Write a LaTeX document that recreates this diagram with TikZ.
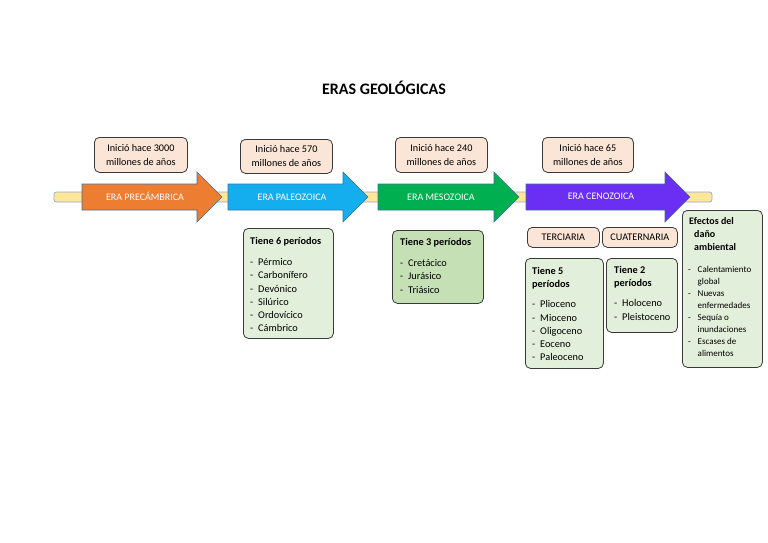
\documentclass[tikz,border=0pt]{standalone}
\usepackage{fontspec}
\setmainfont{Carlito}
\definecolor{barfill}{HTML}{FFE699}
\definecolor{barline}{HTML}{8FAADC}
\definecolor{arrline}{HTML}{41719C}
\definecolor{cpre}{HTML}{ED7D31}
\definecolor{cpal}{HTML}{14AEEE}
\definecolor{cmes}{HTML}{00B050}
\definecolor{ccen}{HTML}{6A2FF2}
\definecolor{datefill}{HTML}{FBE5D6}
\definecolor{lgreen}{HTML}{E2EFDA}
\definecolor{mgreen}{HTML}{C5E0B4}
\definecolor{boxline}{HTML}{3A3A3A}
\newcommand{\itm}{\makebox[8pt][l]{-}}
\newcommand{\eitm}{\makebox[9.5pt][l]{-}}
\tikzset{
  datebox/.style={draw=boxline, line width=0.8pt, rounded corners=5pt, fill=datefill, anchor=north west, inner sep=0pt},
  listbox/.style={draw=boxline, line width=0.8pt, rounded corners=5pt, fill=lgreen, anchor=north west, inner sep=0pt},
  datetext/.style={align=center, font=\fontsize{10.2}{14}\selectfont, inner sep=0pt},
  listtext/.style={align=left, font=\fontsize{10.3}{13.2}\selectfont, inner sep=0pt, anchor=north west},
  eratext/.style={text=white, font=\fontsize{10}{12}\selectfont, inner sep=0pt},
  erashape/.style={draw=arrline, line width=0.6pt}
}
\begin{document}
\begin{tikzpicture}[x=1pt,y=-1pt]
\useasboundingbox (0,0) rectangle (768,543);
\fill[white] (0,0) rectangle (768,543);
% title
\node[font=\bfseries\fontsize{16}{19}\selectfont, inner sep=0pt] (title) at (384,88) {ERAS GEOLÓGICAS};
% timeline bar
\draw[draw=barline, fill=barfill, line width=0.8pt, rounded corners=2.5pt] (54,192) rectangle (712,202);
% arrows
\draw[erashape, fill=cpre] (82,184) -- (197,184) -- (197,172) -- (222,197) -- (197,222) -- (197,210) -- (82,210) -- cycle;
\node[eratext] (pre) at (145,196) {ERA PRECÁMBRICA};
\draw[erashape, fill=cpal] (228,184) -- (343,184) -- (343,172) -- (368,197) -- (343,222) -- (343,210) -- (228,210) -- cycle;
\node[eratext] (pal) at (292,197) {ERA PALEOZOICA};
\draw[erashape, fill=cmes] (378,184) -- (494,184) -- (494,172) -- (519,197) -- (494,222) -- (494,210) -- (378,210) -- cycle;
\node[eratext] (mes) at (441,197) {ERA MESOZOICA};
\draw[erashape, fill=ccen] (526,184) -- (665,184) -- (665,172) -- (690,197) -- (665,222) -- (665,210) -- (526,210) -- cycle;
\node[eratext] (cen) at (601,196) {ERA CENOZOICA};
% date boxes
\node[datebox, minimum width=93pt, minimum height=35pt] (d1) at (94,137) {};
\node[datetext] (t1) at (d1.center) {Inició hace 3000\\millones de años};
\node[datebox, minimum width=92pt, minimum height=34pt] (d2) at (240,139) {};
\node[datetext] (t2) at (d2.center) {Inició hace 570\\millones de años};
\node[datebox, minimum width=92pt, minimum height=35pt] (d3) at (395,137) {};
\node[datetext] (t3) at (d3.center) {Inició hace 240\\millones de años};
\node[datebox, minimum width=91pt, minimum height=35pt] (d4) at (542,137) {};
\node[datetext] (t4) at (d4.center) {Inició hace 65\\millones de años};
% Paleozoic periods
\node[listbox, minimum width=90pt, minimum height=110pt] (p6) at (243,228) {};
\node[listtext] (p6t) at (250,237.5) {\textbf{Tiene 6 períodos}\\[7.5pt]\itm Pérmico\\\itm Carbonífero\\\itm Devónico\\\itm Silúrico\\\itm Ordovícico\\\itm Cámbrico};
% Mesozoic periods
\node[listbox, fill=mgreen, minimum width=91pt, minimum height=73pt] (p3) at (392,230) {};
\node[listtext] (p3t) at (400,238.5) {\textbf{Tiene 3 períodos}\\[7.5pt]\itm Cretácico\\\itm Jurásico\\\itm Triásico};
% Cenozoic subdivisions
\node[datebox, minimum width=72pt, minimum height=20pt] (ter) at (527,227) {};
\node[datetext, font=\fontsize{10.2}{12}\selectfont] (tert) at (ter.center) {TERCIARIA};
\node[datebox, minimum width=75pt, minimum height=20pt] (cua) at (602,227) {};
\node[datetext, font=\fontsize{10.2}{12}\selectfont] (cuat) at (cua.center) {CUATERNARIA};
\node[listbox, minimum width=78pt, minimum height=110pt] (p5) at (525,258) {};
\node[listtext] (p5t) at (532,267) {\textbf{Tiene 5}\\\textbf{períodos}\\[7pt]\itm Plioceno\\\itm Mioceno\\\itm Oligoceno\\\itm Eoceno\\\itm Paleoceno};
\node[listbox, minimum width=71pt, minimum height=74pt] (p2) at (606,258) {};
\node[listtext] (p2t) at (614,266) {\textbf{Tiene 2}\\\textbf{períodos}\\[7pt]\itm Holoceno\\\itm Pleistoceno};
% Efectos
\node[listbox, minimum width=80pt, minimum height=157pt] (ef) at (682,210) {};
\node[listtext, font=\fontsize{10}{13}\selectfont] (eft) at (689,217) {\textbf{Efectos del}\\\hspace{5pt}\textbf{daño}\\\hspace{5pt}\textbf{ambiental}};
\node[listtext, font=\fontsize{9}{12}\selectfont] (efl) at (688,266) {\eitm Calentamiento\\\hspace{9.5pt}global\\\eitm Nuevas\\\hspace{9.5pt}enfermedades\\\eitm Sequía o\\\hspace{9.5pt}inundaciones\\\eitm Escases de\\\hspace{9.5pt}alimentos};
\end{tikzpicture}
\end{document}
